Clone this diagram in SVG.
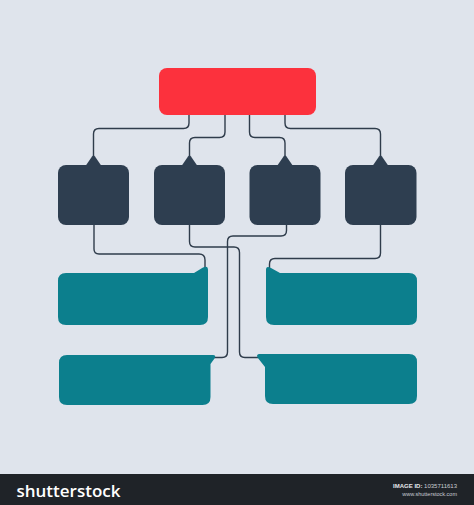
<svg xmlns="http://www.w3.org/2000/svg" width="474" height="505" viewBox="0 0 474 505">
<style>
.red{fill:#fc313d}
.dark{fill:#2e3e50}
.teal{fill:#0c7f8d}
.ln{fill:none;stroke:#2f3c4b;stroke-width:1.4;stroke-linecap:round;stroke-linejoin:round}
.logo{font-family:"Open Sans","Liberation Sans",sans-serif;font-weight:600;fill:#ffffff}
.small{font-family:"Liberation Sans",sans-serif;fill:#c9ccd2}
</style>
<rect width="474" height="505" fill="#dfe4ec"/>
<g id="connectors">
<path class="ln" d="M189,115 V123 Q189,128.5 183.5,128.5 H99 Q93.5,128.5 93.5,134 V157"/>
<path class="ln" d="M285,115 V123 Q285,128.5 290.5,128.5 H375 Q380.5,128.5 380.5,134 V157"/>
<path class="ln" d="M225,115 V132 Q225,137.5 219.5,137.5 H195 Q189.5,137.5 189.5,143 V157"/>
<path class="ln" d="M249.5,115 V132 Q249.5,137.5 255,137.5 H279.5 Q285,137.5 285,143 V157"/>
<path class="ln" d="M94,225 V249 Q94,254 99,254 H199 Q205,254 205,260 V268"/>
<path class="ln" d="M380.5,225 V253 Q380.5,258.5 375,258.5 H275 Q269.5,258.5 269.5,264 V269"/>
<path class="ln" d="M189.5,225 V241.5 Q189.5,247 195,247 H234 Q239.5,247 239.5,252.5 V352 Q239.5,357.5 245,357.5 H258"/>
<path class="ln" d="M286.5,225 V230.5 Q286.5,236 281,236 H233 Q227.5,236 227.5,241.5 V352 Q227.5,357.5 222,357.5 H213"/>
</g>
<g id="root"><rect class="red" x="159" y="68" width="157" height="47" rx="8"/></g>
<g id="box1"><rect class="dark" x="58" y="165" width="71" height="60" rx="8"/><path class="dark" d="M85.5,166 L92,156.5 Q93.5,154.5 95,156.5 L101.5,166 Z"/></g>
<g id="box2"><rect class="dark" x="154" y="165" width="71" height="60" rx="8"/><path class="dark" d="M181.5,166 L188,156.5 Q189.5,154.5 191,156.5 L197.5,166 Z"/></g>
<g id="box3"><rect class="dark" x="249.5" y="165" width="71" height="60" rx="8"/><path class="dark" d="M277,166 L283.5,156.5 Q285,154.5 286.5,156.5 L293,166 Z"/></g>
<g id="box4"><rect class="dark" x="345" y="165" width="71.5" height="60" rx="8"/><path class="dark" d="M372.5,166 L379,156.5 Q380.5,154.5 382,156.5 L388.5,166 Z"/></g>
<g id="teal1"><path class="teal" d="M66,273 H194 L203,267.5 Q208,265 208,270 V317 Q208,325 200,325 H66 Q58,325 58,317 V281 Q58,273 66,273 Z"/></g>
<g id="teal2"><path class="teal" d="M280,273 H409 Q417,273 417,281 V317 Q417,325 409,325 H274 Q266,325 266,317 V270 Q266,265 271,268 Z"/></g>
<g id="teal3"><path class="teal" d="M67,355 H213 Q216.5,355 214.5,358.5 L210.5,364 V397 Q210.5,405 202.5,405 H67 Q59,405 59,397 V363 Q59,355 67,355 Z"/></g>
<g id="teal4"><path class="teal" d="M259.5,354 H409 Q417,354 417,362 V396 Q417,404 409,404 H273 Q265,404 265,396 V367 L257.5,357.5 Q256,354 259.5,354 Z"/></g>
<g id="footer">
<rect x="0" y="474" width="474" height="31" fill="#1f2328"/>
<text class="logo" x="16.5" y="496.5" font-size="17">shutterstock</text>
<text class="small" x="457" y="488" font-size="6" text-anchor="end"><tspan font-weight="bold" fill="#e6e8ec">IMAGE ID:</tspan> 1035711613</text>
<text class="small" x="457" y="495.5" font-size="5.5" text-anchor="end">www.shutterstock.com</text>
</g>
</svg>
